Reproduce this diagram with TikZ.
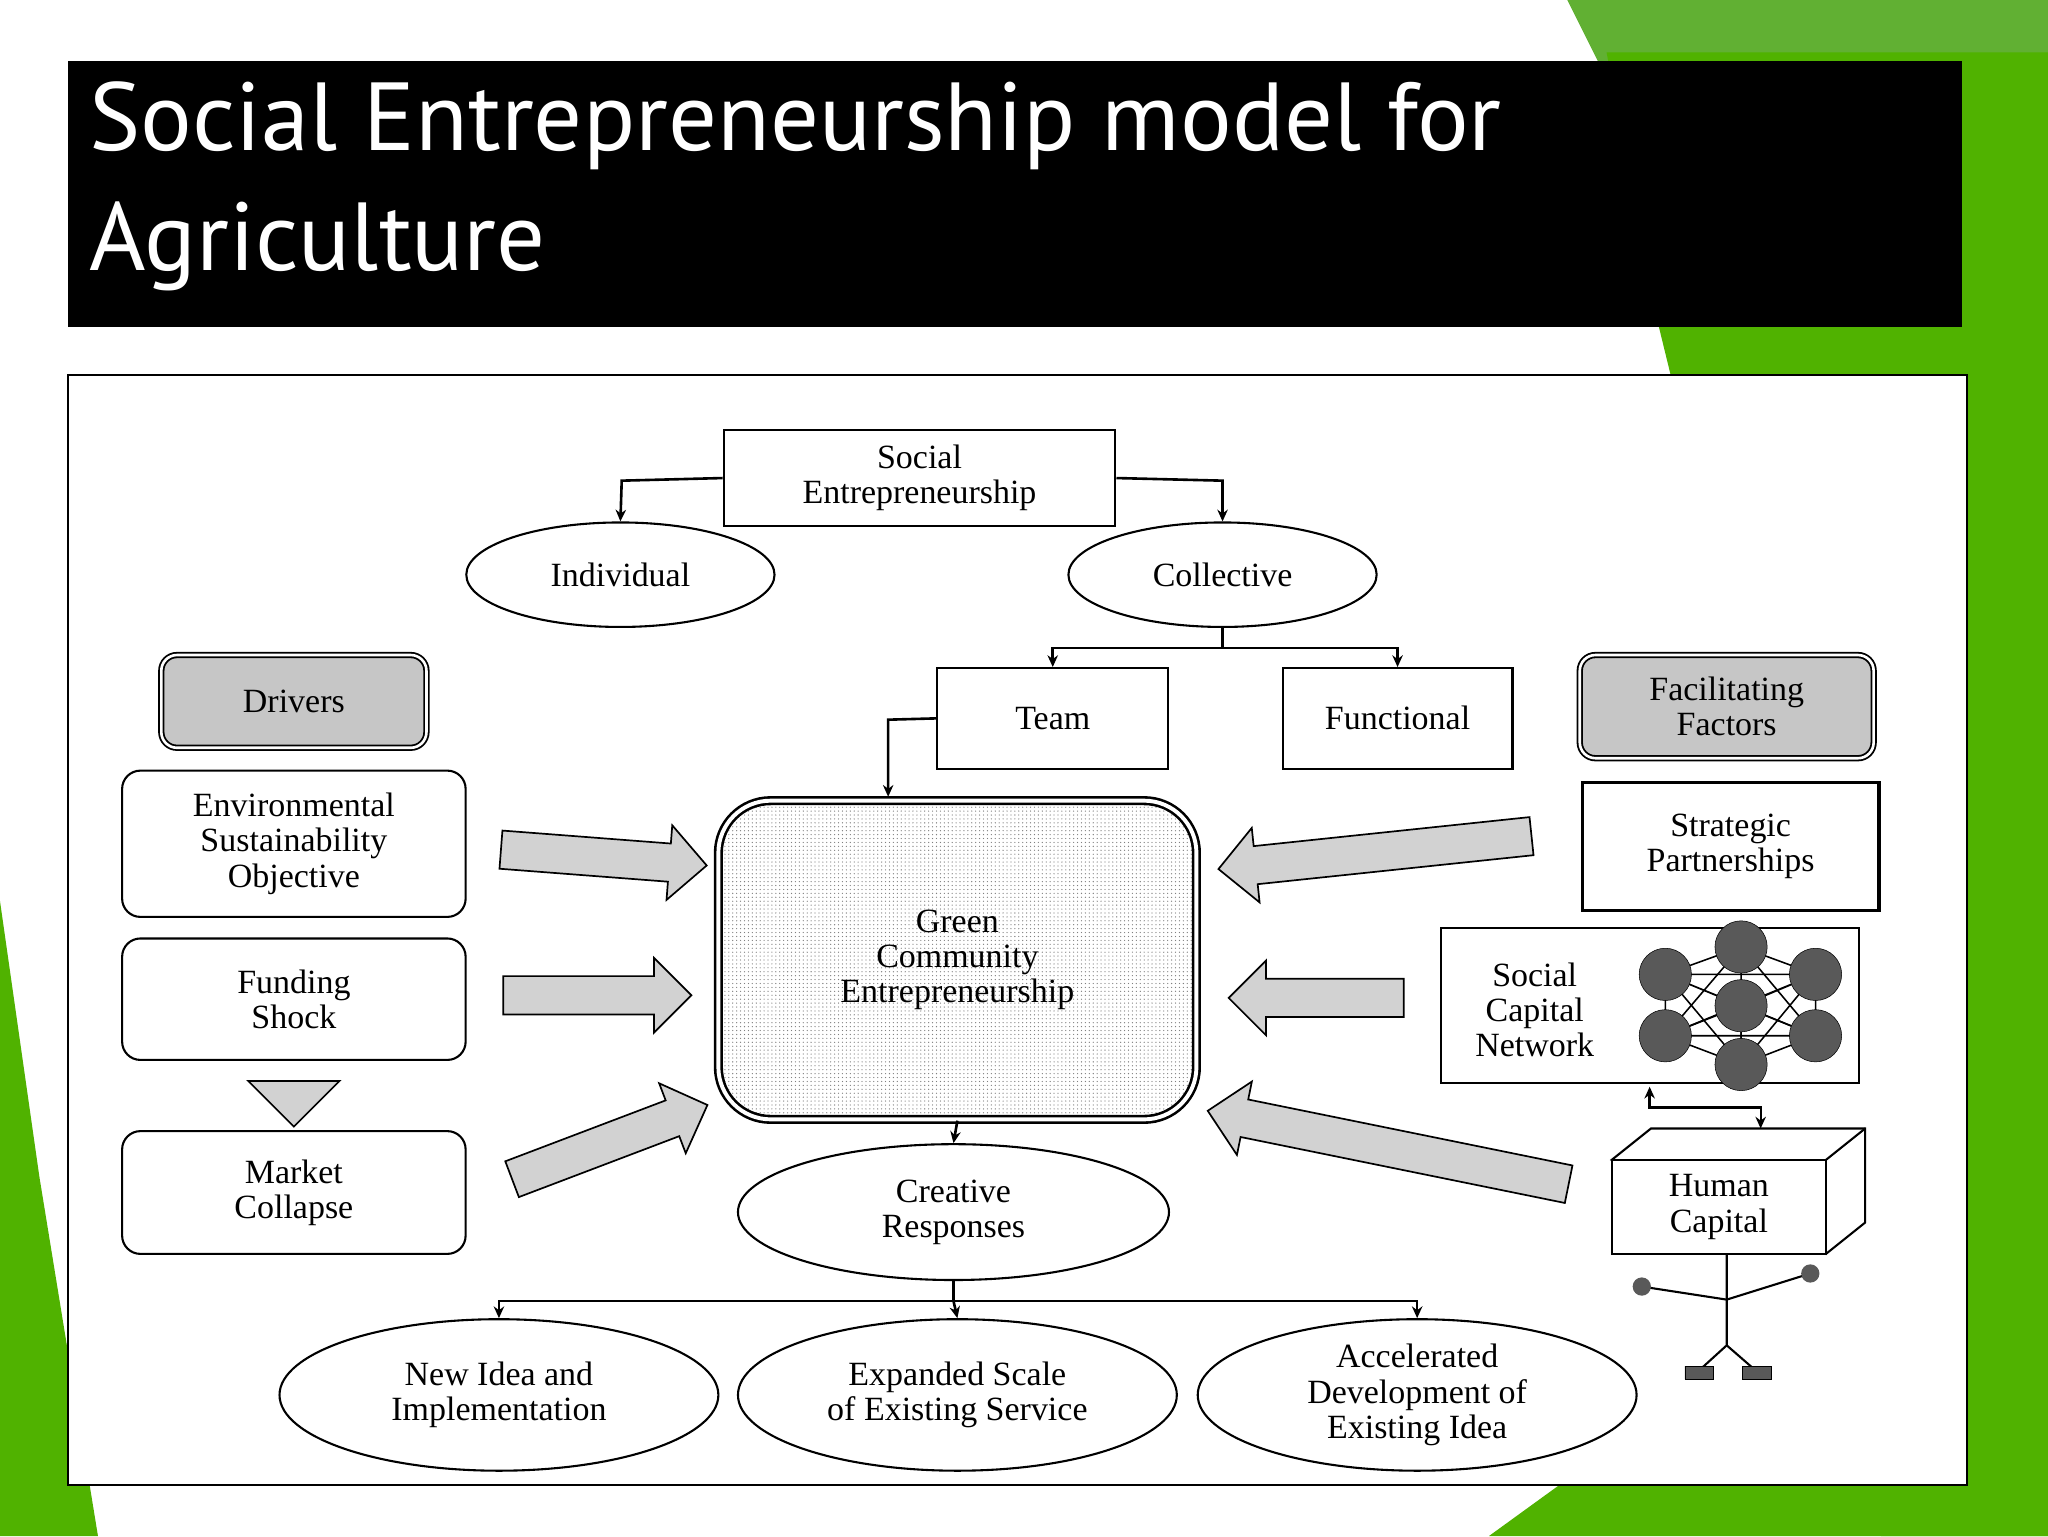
\documentclass[tikz,border=0pt]{standalone}
\usepackage{fontspec}
\setmainfont{Liberation Serif}
\newfontfamily\titlefont{PT Sans}
\usetikzlibrary{shapes.geometric,shapes.arrows,patterns,arrows.meta}
\begin{document}
\begin{tikzpicture}[x=1pt,y=-1pt,
  every node/.style={font=\fontsize{26}{31}\selectfont, align=center},
  box/.style={draw,line width=1.6pt,inner sep=0},
  rbox/.style={draw,line width=1.6pt,rounded corners=14pt,inner sep=0},
  gbox/.style={draw,double,double distance=2pt,line width=1.4pt,fill=gray!45,rounded corners=12pt,inner sep=0},
  ell/.style={draw,ellipse,line width=1.6pt,inner sep=0},
  barrow/.style={draw,line width=1.3pt,fill=gray!35,single arrow,minimum width=56pt,single arrow head extend=14pt,inner sep=14pt},
  con/.style={line width=2pt,-{Stealth[length=9pt,width=8pt]}},
  netl/.style={line width=1.2pt},
  dot/.style={circle,draw,fill=gray!70!black,minimum size=40pt,inner sep=0}]
\useasboundingbox (0,0) rectangle (1568,1176);
\fill[white] (0,0) rectangle (1568,1176);
% green decoration
\fill[green!45!black!70!lime!80] (1200,0) -- (1568,0) -- (1568,60) -- (1230,60) -- cycle;
\fill[lime!60!green!70!black] (1230,40) -- (1568,40) -- (1568,1176) -- (1440,1176) -- (1380,700) -- (1270,250) -- cycle;
\fill[lime!60!green!70!black] (1140,1176) -- (1300,1060) -- (1568,1060) -- (1568,1176) -- cycle;
\fill[lime!60!green!70!black] (0,690) -- (30,900) -- (75,1176) -- (0,1176) -- cycle;
% title
\fill[black] (52,47) rectangle (1502,250);
\node[anchor=north west,text=white,align=left,font=\titlefont\fontsize{74}{92}\selectfont,inner sep=0] (title) at (68,62) {Social Entrepreneurship model for\\Agriculture};
% frame
\draw[fill=white,line width=1pt] (52,287) rectangle (1506,1137);
% top
\node[box,minimum width=300pt,minimum height=73pt] (se) at (704,366) {Social\\[-4pt]Entrepreneurship};
\node[ell,minimum width=236pt,minimum height=80pt] (ind) at (475,440) {Individual};
\node[ell,minimum width=236pt,minimum height=80pt] (col) at (936,440) {Collective};
\draw[con] (se.west) -- (476,368) -- (ind.north);
\draw[con] (se.east) -- (936,368) -- (col.north);
\node[box,minimum width=177pt,minimum height=77pt] (team) at (806,550) {Team};
\node[box,minimum width=176pt,minimum height=77pt] (fun) at (1070,550) {Functional};
\draw[line width=2pt] (col.south) -- (936,496);
\draw[con] (936,496) -- (806,496) -- (team.north);
\draw[con] (936,496) -- (1070,496) -- (fun.north);
% center
\node[draw,double,double distance=3pt,line width=2pt,rounded corners=40pt,pattern=dots,pattern color=gray,minimum width=366pt,minimum height=244pt] (gce) at (733,735) {};
\node (gcet) at (733,735) {Green\\[-4pt]Community\\[-4pt]Entrepreneurship};
\draw[con] (team.west) -- (680,551) -- (680,610);
% drivers
\node[gbox,minimum width=203pt,minimum height=71pt] (drv) at (225,537) {Drivers};
\node[rbox,minimum width=263pt,minimum height=112pt] (env) at (225,646) {Environmental\\[-4pt]Sustainability\\[-4pt]Objective};
\node[rbox,minimum width=263pt,minimum height=93pt] (fund) at (225,765) {Funding\\[-4pt]Shock};
\node[rbox,minimum width=263pt,minimum height=94pt] (mkt) at (225,913) {Market\\[-4pt]Collapse};
\node[barrow,minimum width=70pt,minimum height=35pt,inner sep=10pt,rotate=-90,single arrow head extend=20pt] (da) at (225,839) {};
\node[barrow,minimum height=158pt,rotate=-4.4] (a1) at (455,656) {};
\node[barrow,minimum height=144pt] (a2) at (450,762) {};
\node[barrow,minimum height=160pt,rotate=20.8] (a3) at (460,877) {};
% facilitating
\node[gbox,minimum width=225pt,minimum height=79pt] (fac) at (1322,541) {Facilitating\\[-4pt]Factors};
\node[draw,line width=2.6pt,minimum width=227pt,minimum height=98pt] (sp) at (1325,648) {Strategic\\[-4pt]Partnerships};
\node[draw,line width=1.6pt,minimum width=320pt,minimum height=119pt] (scn) at (1263,770) {};
\node (scnt) at (1175,773) {Social\\[-4pt]Capital\\[-4pt]Network};
\coordinate (d1) at (1333,725);
\coordinate (d2) at (1275,746);
\coordinate (d3) at (1390,746);
\coordinate (d4) at (1333,770);
\coordinate (d5) at (1275,793);
\coordinate (d6) at (1390,793);
\coordinate (d7) at (1333,815);
\draw[netl] (d1) -- (d2) (d1) -- (d3) (d1) -- (d4) (d1) -- (d5) (d1) -- (d6) (d1) -- (d7);
\draw[netl] (d2) -- (d3) (d2) -- (d4) (d2) -- (d5) (d2) -- (d6) (d2) -- (d7);
\draw[netl] (d3) -- (d4) (d3) -- (d5) (d3) -- (d6) (d3) -- (d7);
\draw[netl] (d4) -- (d5) (d4) -- (d6) (d4) -- (d7) (d5) -- (d6) (d5) -- (d7) (d6) -- (d7);
\node[dot] (n1) at (d1) {};
\node[dot] (n2) at (d2) {};
\node[dot] (n3) at (d3) {};
\node[dot] (n4) at (d4) {};
\node[dot] (n5) at (d5) {};
\node[dot] (n6) at (d6) {};
\node[dot] (n7) at (d7) {};
% human capital
\draw[line width=1.6pt,fill=white] (1234,888) -- (1264,864) -- (1428,864) -- (1428,936) -- (1398,960) -- cycle;
\draw[line width=1.6pt] (1398,888) -- (1428,864);
\node[draw,line width=1.6pt,fill=white,minimum width=164pt,minimum height=72pt] (hc) at (1316,924) {Human\\[-4pt]Capital};
\draw[line width=1.8pt,{Stealth[length=9pt,width=8pt]}-{Stealth[length=9pt,width=8pt]}] (1263,832) -- (1263,848) -- (1348,848) -- (1348,864);
\draw[line width=1.6pt] (1322,960) -- (1322,1030) -- (1300,1050);
\draw[line width=1.6pt] (1322,1030) -- (1345,1050);
\draw[line width=1.6pt] (1257,985) -- (1322,995) -- (1386,975);
\fill[gray!70!black] (1257,985) circle (7pt) (1386,975) circle (7pt);
\draw[fill=gray!70!black] (1290,1046) rectangle (1312,1056) (1334,1046) rectangle (1356,1056);
\node[barrow,minimum height=241pt,rotate=186] (f1) at (1060,652) {};
\node[barrow,minimum height=134pt,rotate=180] (f2) at (1015,764) {};
\node[barrow,minimum height=282pt,rotate=168.5] (f3) at (1070,880) {};
% bottom
\node[ell,minimum width=330pt,minimum height=104pt] (cr) at (730,928) {Creative\\[-4pt]Responses};
\draw[con] (gce.south) -- (cr.north);
\node[ell,minimum width=336pt,minimum height=116pt] (e1) at (382,1068) {New Idea and\\[-4pt]Implementation};
\node[ell,minimum width=336pt,minimum height=116pt] (e2) at (733,1068) {Expanded Scale\\[-4pt]of Existing Service};
\node[ell,minimum width=336pt,minimum height=116pt] (e3) at (1085,1068) {Accelerated\\[-4pt]Development of\\[-4pt]Existing Idea};
\draw[line width=2pt] (cr.south) -- (730,996);
\draw[con] (730,996) -- (382,996) -- (e1.north);
\draw[con] (730,996) -- (e2.north);
\draw[con] (730,996) -- (1085,996) -- (e3.north);
\end{tikzpicture}
\end{document}
